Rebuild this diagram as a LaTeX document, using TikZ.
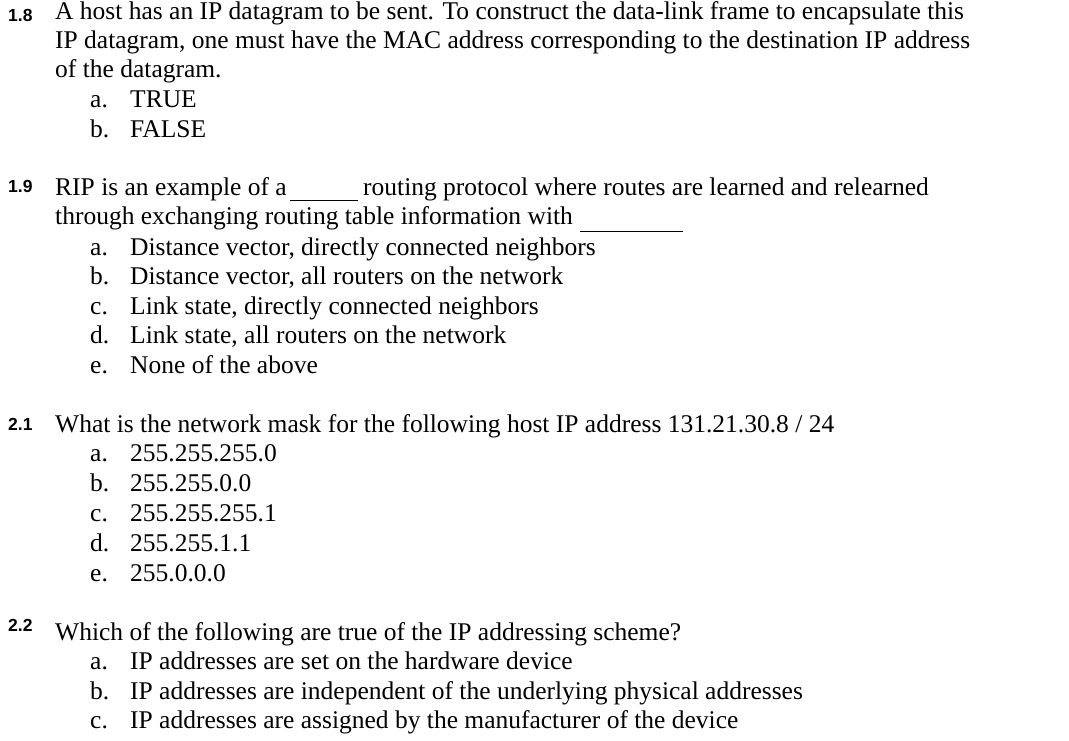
\documentclass[tikz,border=0pt]{standalone}
\usepackage{fontspec}
\setmainfont{Liberation Serif}
\newfontfamily\numfont{Liberation Sans}
\begin{document}
\begin{tikzpicture}[x=1pt,y=-1pt,
  t/.style={anchor=base west,inner sep=0pt,font=\fontsize{25.5}{25.5}\selectfont},
  num/.style={anchor=base west,inner sep=0pt,font=\numfont\bfseries\fontsize{17.5}{17.5}\selectfont}]
\useasboundingbox (0,0) rectangle (1069,741);
% 1.8
\node[num] (n18) at (8,22) {1.8};
\node[t] (a1) at (55,20) {A host has an IP datagram to be sent. To construct the data-link frame to encapsulate this};
\node[t] (a2) at (55,49) {IP datagram, one must have the MAC address corresponding to the destination IP address};
\node[t] (a3) at (55,78) {of the datagram.};
\node[t] (a4) at (90,108) {a.};\node[t] (a4t) at (130,108) {TRUE};
\node[t] (a5) at (90,138) {b.};\node[t] (a5t) at (130,138) {FALSE};
% 1.9
\node[num] (n19) at (8,193) {1.9};
\node[t] (b1) at (55,196) {RIP is an example of a};
\draw (290,200) -- (358,200);
\node[t] (b1b) at (363,196) {routing protocol where routes are learned and relearned};
\node[t] (b2) at (55,225) {through exchanging routing table information with};
\draw (580,231) -- (683,231);
\node[t] (b3) at (90,255) {a.};\node[t] at (130,255) {Distance vector, directly connected neighbors};
\node[t] (b4) at (90,284) {b.};\node[t] at (130,284) {Distance vector, all routers on the network};
\node[t] (b5) at (90,314) {c.};\node[t] at (130,314) {Link state, directly connected neighbors};
\node[t] (b6) at (90,343) {d.};\node[t] at (130,343) {Link state, all routers on the network};
\node[t] (b7) at (90,373) {e.};\node[t] at (130,373) {None of the above};
% 2.1
\node[num] (n21) at (8,430) {2.1};
\node[t] (c1) at (55,432) {What is the network mask for the following host IP address 131.21.30.8 / 24};
\node[t] at (90,461) {a.};\node[t] at (130,461) {255.255.255.0};
\node[t] at (90,491) {b.};\node[t] at (130,491) {255.255.0.0};
\node[t] at (90,521) {c.};\node[t] at (130,521) {255.255.255.1};
\node[t] at (90,551) {d.};\node[t] at (130,551) {255.255.1.1};
\node[t] at (90,581) {e.};\node[t] at (130,581) {255.0.0.0};
% 2.2
\node[num] (n22) at (8,631) {2.2};
\node[t] (d1) at (55,640) {Which of the following are true of the IP addressing scheme?};
\node[t] at (90,669) {a.};\node[t] at (130,669) {IP addresses are set on the hardware device};
\node[t] at (90,699) {b.};\node[t] at (130,699) {IP addresses are independent of the underlying physical addresses};
\node[t] at (90,728) {c.};\node[t] at (130,728) {IP addresses are assigned by the manufacturer of the device};
\end{tikzpicture}
\end{document}
